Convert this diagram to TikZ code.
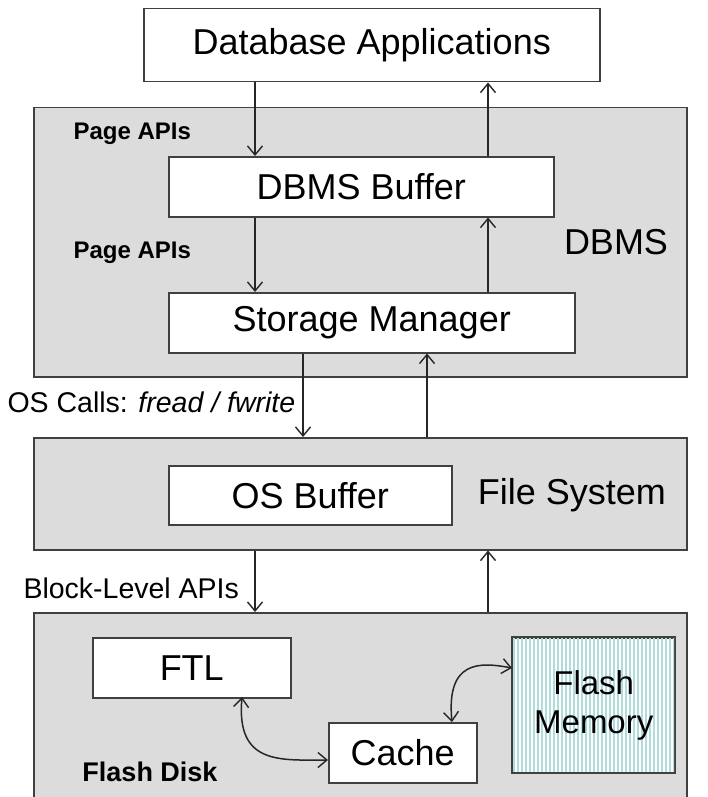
\documentclass[tikz,border=0pt]{standalone}
\usepackage{fontspec}
\setmainfont{Liberation Sans}
\usetikzlibrary{arrows.meta}
\definecolor{panelgray}{HTML}{DCDCDC}
\definecolor{edgegray}{HTML}{404040}
\definecolor{stripe}{HTML}{B0DCDC}
\begin{document}
\begin{tikzpicture}[x=1pt,y=-1pt,
  panel/.style={draw=edgegray,line width=1.5pt,fill=panelgray,inner sep=0,anchor=north west},
  wbox/.style={draw=edgegray,line width=1.5pt,fill=white,inner sep=0,anchor=north west},
  big/.style={font=\fontsize{36}{40}\selectfont},
  mid/.style={font=\fontsize{28.5}{32}\selectfont},
  lab/.style={font=\fontsize{24}{26}\selectfont\bfseries},
  conn/.style={line width=1.5pt,draw=black!85,-{Straight Barb[length=9pt,width=15pt,line width=1.4pt]}},
  bconn/.style={line width=1.5pt,draw=black!85,{Straight Barb[length=9pt,width=15pt,line width=1.4pt]}-{Straight Barb[length=9pt,width=15pt,line width=1.4pt]}}]
\useasboundingbox (0,0) rectangle (708,797);
\fill[white] (0,0) rectangle (708,797);
% panels
\node[panel,minimum width=653pt,minimum height=269pt] (dbms) at (33,107) {};
\node[panel,minimum width=653pt,minimum height=112pt] (fs) at (33,437) {};
\node[panel,minimum width=653pt,minimum height=190pt] (fd) at (33,612) {};
% boxes
\node[wbox,minimum width=456pt,minimum height=73pt] (app) at (143,8) {};
\node[big] at (app.center) {Database Applications};
\node[wbox,minimum width=385pt,minimum height=60pt] (buf) at (168,156) {};
\node[big] at (buf.center) {DBMS Buffer};
\node[wbox,minimum width=406pt,minimum height=60pt] (sm) at (168,292) {};
\node[big] at (sm.center) {Storage Manager};
\node[wbox,minimum width=283pt,minimum height=59pt] (osb) at (168,465) {};
\node[big] at (osb.center) {OS Buffer};
\node[wbox,minimum width=198pt,minimum height=60pt] (ftl) at (92,637) {};
\node[big] at (ftl.center) {FTL};
\node[wbox,minimum width=148pt,minimum height=60pt] (cache) at (328,722) {};
\node[big] at (cache.center) {Cache};
\node[wbox,minimum width=162pt,minimum height=135pt] (fm) at (512,637) {};
\begin{scope}
\clip (512,637) rectangle (674,772);
\foreach \i in {514,518,...,674} \draw[stripe,line width=1.2pt] (\i,637) -- (\i,772);
\end{scope}
\draw[edgegray,line width=1.5pt] (fm.north west) rectangle (fm.south east);
\node[font=\fontsize{33}{39}\selectfont,align=center] (fmt) at (fm.center) {Flash\\Memory};
% panel labels
\node[big] (dbmsl) at (616,242) {DBMS};
\node[big] (fsl) at (572,495) {File System};
\node[lab,anchor=west] (pa1) at (70,134) {Page APIs};
\node[lab,anchor=west] (pa2) at (70,253) {Page APIs};
\node[font=\fontsize{27}{32}\selectfont\bfseries] (fdl) at (150,772) {Flash Disk};
\node[mid,anchor=west] (osc) at (4,402) {OS Calls: \textit{fread / fwrite}};
\node[mid,anchor=west] (bla) at (20,588) {Block-Level APIs};
% x positions
\coordinate (xa) at (255,0);
\coordinate (xb) at (488,0);
\coordinate (xc) at (303,0);
\coordinate (xd) at (427,0);
% connectors
\draw[conn] (app.south -| xa) -- (buf.north -| xa);
\draw[conn] (buf.north -| xb) -- (app.south -| xb);
\draw[conn] (buf.south -| xa) -- (sm.north -| xa);
\draw[conn] (sm.north -| xb) -- (buf.south -| xb);
\draw[conn] (sm.south -| xc) -- (fs.north -| xc);
\draw[conn] (fs.north -| xd) -- (sm.south -| xd);
\draw[conn] (fs.south -| xa) -- (fd.north -| xa);
\draw[conn] (fd.north -| xb) -- (fs.south -| xb);
\coordinate (ftlb) at (242,697);
\coordinate (cachel) at (328,760);
\coordinate (cachet) at (452,722);
\coordinate (fml) at (512,668);
\draw[bconn] (ftlb) .. controls (236,765) and (280,760) .. (cachel);
\draw[bconn] (cachet) .. controls (446,660) and (480,662) .. (fml);
\end{tikzpicture}
\end{document}
